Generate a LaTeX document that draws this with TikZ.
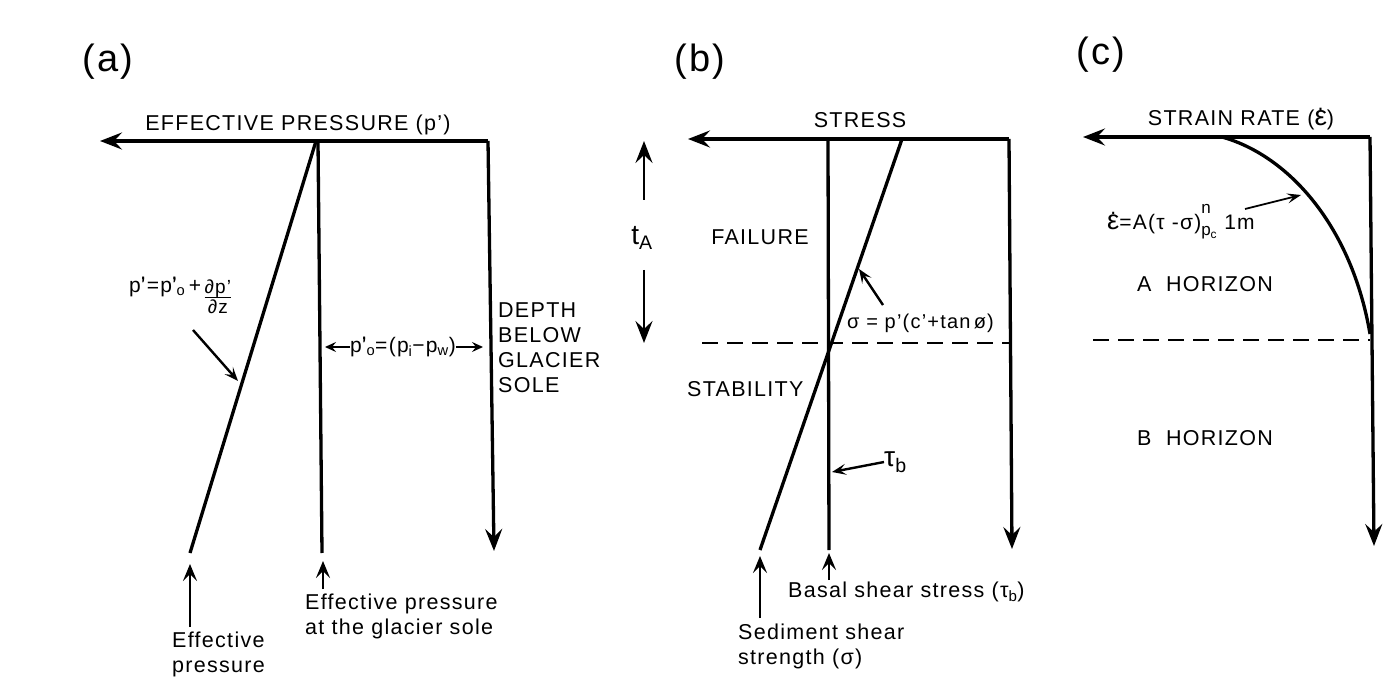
\documentclass[tikz,border=0pt]{standalone}
\usepackage{fontspec}
\usepackage{graphicx}
\setmainfont{Liberation Sans}[LetterSpace=6]
\usetikzlibrary{arrows.meta}
\newcommand{\edot}{{\ooalign{\scalebox{1.3}{ε}\cr\hidewidth\raise0.72em\hbox{.}\hidewidth\cr}}}
\newcommand{\pr}{\rlap{\raise0.05em\hbox{'}}}
\begin{document}
\begin{tikzpicture}[x=1pt,y=-1pt,
  ax/.style={line width=3.3pt},
  axarrow/.style={line width=3.3pt,-{Stealth[length=22pt,width=17pt,inset=8pt]}},
  thinarrow/.style={line width=2.4pt,-{Stealth[length=17pt,width=14pt,inset=7pt]}},
  smallarrow/.style={line width=2pt,-{Stealth[length=11pt,width=10pt,inset=4pt]}},
  dashline/.style={line width=2.8pt,dash pattern=on 16pt off 9pt},
  lbl/.style={font=\fontsize{21.5}{25}\selectfont,inner sep=0pt},
  eq/.style={font=\fontsize{21}{24}\selectfont,inner sep=0pt},
  big/.style={font=\fontsize{28}{30}\selectfont,inner sep=0pt},
  panel/.style={font=\fontsize{38}{40}\selectfont,inner sep=0pt}]
\useasboundingbox[fill=white] (0,0) rectangle (1400,692);

% ---------------- (a) ----------------
\node[panel] (pa) at (108,62) {(a)};
\coordinate (aO) at (488,141);
\coordinate (aX) at (100,141);
\coordinate (aY) at (494,551);
\coordinate (aT) at (316,141);
\coordinate (aB) at (190,553);
\coordinate (aM) at (318,141);
\coordinate (aMb) at (322,553);
\draw[axarrow] (aO) -- (aX);
\draw[axarrow] (aO) -- (aY);
\draw[ax] (aT) -- (aB);
\draw[ax] (aM) -- (aMb);
\node[lbl] (aXl) at (298,125) {EFFECTIVE PRESSURE (p')};
\node[eq,anchor=west] (aeq) at (129,298) {p\pr'=p\pr'\textsubscript{o}\,+\,\raisebox{-0.52em}{\fontsize{19}{19}\selectfont\begin{tabular}{@{}c@{}}∂p'\\[-2pt]\hline\noalign{\vskip2pt}∂z\end{tabular}}};
\coordinate (aeqA) at (193,330);
\coordinate (aeqB) at (238,381);
\draw[thinarrow,-{Stealth[length=14pt,width=11pt,inset=6pt]}] (aeqA) -- (aeqB);
\node[eq] (apo) at (403,347) {p\pr'\textsubscript{o}=(p\textsubscript{i}−p\textsubscript{w})};
\coordinate (apoL) at (325,347);
\coordinate (apoR) at (483,347);
\draw[smallarrow] (apo.west) -- (apoL);
\draw[smallarrow] (apo.east) -- (apoR);
\node[lbl,anchor=west,align=left] (adepth) at (498,348) {DEPTH\\BELOW\\GLACIER\\SOLE};
\coordinate (aE1) at (190,627);
\coordinate (aE1t) at (190,564);
\draw[thinarrow] (aE1) -- (aE1t);
\node[lbl,anchor=north west,align=left] (aEl) at (172,632) {Effective\\pressure};
\coordinate (aE2) at (323,589);
\coordinate (aE2t) at (323,561);
\draw[thinarrow] (aE2) -- (aE2t);
\node[lbl,anchor=north west,align=left] (aE2l) at (305,594) {Effective pressure\\at the glacier sole};

% ---------------- (b) ----------------
\node[panel] (pb) at (700,62) {(b)};
\coordinate (bO) at (1009,139);
\coordinate (bX) at (688,139);
\coordinate (bY) at (1012,549);
\coordinate (bV) at (828,139);
\coordinate (bVb) at (829,550);
\coordinate (bS) at (902,139);
\coordinate (bSb) at (760,550);
\draw[axarrow] (bO) -- (bX);
\draw[axarrow] (bO) -- (bY);
\draw[ax] (bV) -- (bVb);
\draw[ax] (bS) -- (bSb);
\coordinate (bD1) at (702,343);
\coordinate (bD2) at (1009,343);
\draw[dashline] (bD1) -- (bD2);
\node[lbl] (bXl) at (860,120) {STRESS};
\node[lbl] (bfail) at (760,237) {FAILURE};
\node[lbl,anchor=west] (bstab) at (687,389) {STABILITY};
\node[big] (btA) at (642,238) {t\textsubscript{A}};
\coordinate (btA1) at (644,200);
\coordinate (btA1t) at (644,141);
\coordinate (btA2) at (644,270);
\coordinate (btA2t) at (644,343);
\draw[axarrow,line width=2.8pt] (btA1) -- (btA1t);
\draw[axarrow,line width=2.8pt] (btA2) -- (btA2t);
\node[eq,anchor=west,font=\fontsize{20}{24}\selectfont] (bsig) at (847,323) {σ = p'(c'+tan\,ø)};
\coordinate (bsA) at (883,305);
\coordinate (bsB) at (859,269);
\draw[thinarrow,-{Stealth[length=14pt,width=11pt,inset=6pt]}] (bsA) -- (bsB);
\node[big,anchor=west] (btau) at (884,462) {τ\textsubscript{b}};
\coordinate (btauT) at (832,472);
\draw[thinarrow,-{Stealth[length=14pt,width=11pt,inset=6pt]}] (btau.west) -- (btauT);
\coordinate (bs1) at (760,618);
\coordinate (bs1t) at (760,556);
\draw[thinarrow] (bs1) -- (bs1t);
\node[lbl,anchor=north west,align=left] (bsl) at (738,624) {Sediment shear\\strength (σ)};
\coordinate (bb1) at (829,580);
\coordinate (bb1t) at (829,553);
\draw[thinarrow] (bb1) -- (bb1t);
\node[lbl,anchor=west] (bbl) at (788,592) {Basal shear stress (τ\textsubscript{b})};

% ---------------- (c) ----------------
\node[panel] (pc) at (1101,55) {(c)};
\coordinate (cO) at (1370,137);
\coordinate (cX) at (1083,137);
\coordinate (cY) at (1374,546);
\coordinate (cC1) at (1222,137);
\coordinate (cC2) at (1370,334);
\draw[axarrow] (cO) -- (cX);
\draw[axarrow] (cO) -- (cY);
\draw[ax] (cC1) .. controls (1290,156) and (1352,228) .. (cC2);
\coordinate (cD1) at (1093,340);
\coordinate (cD2) at (1370,340);
\draw[dashline] (cD1) -- (cD2);
\node[lbl] (cXl) at (1241,120) {STRAIN RATE (\edot)};
\node[eq,anchor=west] (ceq) at (1107,222) {\edot=A(τ -σ)\rlap{\raise0.75em\hbox{\fontsize{17}{17}\selectfont n}}\raisebox{-0.3em}{\fontsize{17}{17}\selectfont p\textsubscript{c}}\ 1m};
\coordinate (ceqA) at (1245,209);
\coordinate (ceqB) at (1301,195);
\draw[smallarrow,line width=1.8pt,-{Stealth[length=14pt,width=10pt,inset=6pt]}] (ceqA) -- (ceqB);
\node[lbl,anchor=west] (cA) at (1137,284) {A\ \ HORIZON};
\node[lbl,anchor=west] (cB) at (1137,438) {B\ \ HORIZON};
\end{tikzpicture}
\end{document}
